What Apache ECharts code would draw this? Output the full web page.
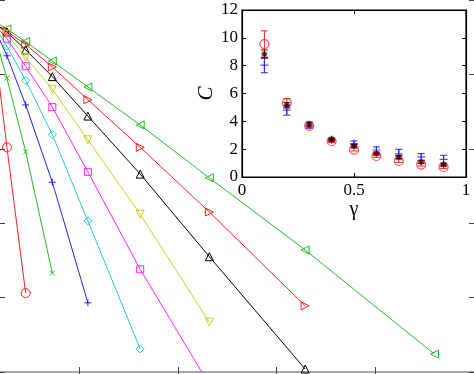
<!DOCTYPE html>
<html><head><meta charset="utf-8">
<script src="https://cdn.jsdelivr.net/npm/echarts@6/dist/echarts.min.js"></script>
<style>html,body{margin:0;padding:0;background:#fff}#c{width:474px;height:374px}</style>
</head><body><div id="c"></div>
<script>
// ---- main plot data ----
const mainX = [0.13, 0.27, 0.46, 0.73, 1.09, 1.62, 2.32, 3.29, 4.6];
const yGreenLeft  = [4.73, 4.61, 4.44, 4.18, 3.83, 3.32, 2.61, 1.64, 0.24];
const yRedRight   = [4.70, 4.58, 4.40, 4.10, 3.66, 3.02, 2.15, 0.89];
const yBlackUp    = [4.70, 4.57, 4.33, 3.97, 3.44, 2.66, 1.55, 0.04];
const yYellowDown = [4.70, 4.54, 4.23, 3.80, 3.12, 2.12, 0.67];
const yMagentaSq  = [4.69, 4.48, 4.11, 3.56, 2.69, 1.38, -0.17];
const yCyanDia    = [4.68, 4.38, 3.92, 3.19, 2.03, 0.31];
const yBluePlus   = [4.66, 4.25, 3.59, 2.55, 0.93];
const yGreenX     = [4.60, 3.95, 2.96, 1.33];
const yRedCircle  = [4.56, 3.02, 1.06];
const mainTickX = [1, 2, 3, 4];

// ---- inset data ----
const gammaVals = [0.1, 0.2, 0.3, 0.4, 0.5, 0.6, 0.7, 0.8, 0.9];
const cRed      = [9.55, 5.33, 3.67, 2.57, 1.97, 1.51, 1.15, 0.89, 0.72];
const cRedErr   = [0.95, 0.30, 0.15, 0.10, 0.10, 0.10, 0.10, 0.10, 0.10];
const cBlack    = [8.83, 5.16, 3.79, 2.69, 2.23, 1.68, 1.44, 1.08, 0.89];
const cBlackErr = [0.30, 0.20, 0.15, 0.10, 0.10, 0.10, 0.10, 0.10, 0.10];
const cBlue     = [8.04, 4.80, 3.72, 2.69, 2.40, 1.94, 1.66, 1.44, 1.26];
const cBlueErr  = [0.55, 0.36, 0.20, 0.12, 0.19, 0.22, 0.33, 0.24, 0.30];

const PLUS = 'path://M5,0L5,10M0,5L10,5';
const CROSS = 'path://M0,0L10,10M10,0L0,10';
const STAR = 'path://M5,0L5,10M0,5L10,5M1.5,1.5L8.5,8.5M8.5,1.5L1.5,8.5';

const mainDefs = [
  {y: yGreenLeft,  color: '#22bb22', symbol: 'triangle', rot: 90,  size: 8},
  {y: yRedRight,   color: '#ff2020', symbol: 'triangle', rot: -90, size: 8},
  {y: yBlackUp,    color: '#000000', symbol: 'triangle', rot: 0,   size: 8},
  {y: yYellowDown, color: '#cccc22', symbol: 'triangle', rot: 180, size: 8},
  {y: yMagentaSq,  color: '#ff22ff', symbol: 'rect',     rot: 0,   size: 7},
  {y: yCyanDia,    color: '#22cccc', symbol: 'diamond',  rot: 0,   size: 8},
  {y: yBluePlus,   color: '#2222ee', symbol: PLUS,       rot: 0,   size: 7},
  {y: yGreenX,     color: '#22bb22', symbol: CROSS,      rot: 0,   size: 5},
  {y: yRedCircle,  color: '#ff2020', symbol: 'circle',   rot: 0,   size: 9}
];

const series = mainDefs.map(d => ({
  type: 'line', xAxisIndex: 0, yAxisIndex: 0,
  data: d.y.map((v, i) => [mainX[i], v]),
  symbol: d.symbol, symbolSize: d.size, symbolRotate: d.rot,
  showAllSymbol: true, clip: true,
  lineStyle: {color: d.color, width: 1},
  itemStyle: {color: 'transparent', borderColor: d.color, borderWidth: 1},
  z: 2
}));

function errSeries(vals, errs, color) {
  return {
    type: 'custom', xAxisIndex: 2, yAxisIndex: 2, z: 5,
    data: gammaVals.map((g, i) => [g, vals[i] - errs[i], vals[i] + errs[i]]),
    encode: {x: 0, y: [1, 2]},
    renderItem: function (params, api) {
      const x = api.value(0);
      const p1 = api.coord([x, api.value(1)]);
      const p2 = api.coord([x, api.value(2)]);
      const w = 3.5;
      const st = {stroke: color, lineWidth: 1};
      return {type: 'group', children: [
        {type: 'line', shape: {x1: p1[0], y1: p1[1], x2: p2[0], y2: p2[1]}, style: st},
        {type: 'line', shape: {x1: p1[0] - w, y1: p1[1], x2: p1[0] + w, y2: p1[1]}, style: st},
        {type: 'line', shape: {x1: p2[0] - w, y1: p2[1], x2: p2[0] + w, y2: p2[1]}, style: st}
      ]};
    }
  };
}
function ptSeries(vals, color, symbol, size) {
  return {
    type: 'scatter', xAxisIndex: 2, yAxisIndex: 2, z: 6,
    data: gammaVals.map((g, i) => [g, vals[i]]),
    symbol: symbol, symbolSize: size,
    itemStyle: {color: 'transparent', borderColor: color, borderWidth: 1.2}
  };
}
series.push(errSeries(cRed, cRedErr, '#ff2020'));
series.push(errSeries(cBlue, cBlueErr, '#2020ff'));
series.push(errSeries(cBlack, cBlackErr, '#700000'));
series.push(ptSeries(cRed, '#ff2020', 'circle', 9));
series.push(ptSeries(cBlue, '#2020ff', PLUS, 8));
series.push(ptSeries(cBlack, '#200000', STAR, 6));

const tickStyle = {color: '#444', width: 1};
const serif = 'Liberation Serif';

const option = {
  animation: false,
  backgroundColor: '#fff',
  textStyle: {fontFamily: serif},
  grid: [
    {left: 0, right: 0, top: 0, bottom: 2, containLabel: false, outerBoundsMode: 'none'},
    {left: 242, top: 10, width: 224, height: 167, containLabel: false, outerBoundsMode: 'none',
     show: true, backgroundColor: '#fff', borderColor: '#000', borderWidth: 1.2, z: 4}
  ],
  xAxis: [
    {type: 'value', gridIndex: 0, position: 'bottom', min: 0.2, max: 5.0,
     axisLine: {show: true, lineStyle: {color: '#888', width: 1.5}},
     axisTick: {show: true, inside: true, length: 5, customValues: mainTickX, lineStyle: tickStyle},
     axisLabel: {show: false}, splitLine: {show: false}},
    {type: 'value', gridIndex: 0, position: 'top', min: 0.2, max: 5.0,
     axisLine: {show: false},
     axisTick: {show: true, inside: true, length: 5, customValues: mainTickX, lineStyle: tickStyle},
     axisLabel: {show: false}, splitLine: {show: false}},
    {type: 'value', gridIndex: 1, position: 'bottom', min: 0, max: 1, interval: 0.5, z: 6,
     axisLine: {show: true, onZero: false, lineStyle: {color: '#000', width: 1.2}},
     axisTick: {show: true, inside: true, length: 4, lineStyle: {color: '#000'}},
     axisLabel: {show: true, color: '#000', fontFamily: serif, fontSize: 17, margin: 5},
     splitLine: {show: false},
     name: 'γ', nameLocation: 'middle', nameGap: 18,
     nameTextStyle: {color: '#000', fontFamily: serif, fontSize: 20}},
    {type: 'value', gridIndex: 1, position: 'top', min: 0, max: 1, interval: 0.5, z: 6,
     axisLine: {show: true, onZero: false, lineStyle: {color: '#000', width: 1.2}},
     axisTick: {show: true, inside: true, length: 4, lineStyle: {color: '#000'}},
     axisLabel: {show: false}, splitLine: {show: false}}
  ],
  yAxis: [
    {type: 'value', gridIndex: 0, position: 'left', min: 0, max: 5, interval: 1,
     axisLine: {show: false},
     axisTick: {show: true, inside: true, length: 5, lineStyle: tickStyle},
     axisLabel: {show: false}, splitLine: {show: false}},
    {type: 'value', gridIndex: 0, position: 'right', min: 0, max: 5, interval: 1,
     axisLine: {show: false},
     axisTick: {show: true, inside: true, length: 5, lineStyle: tickStyle},
     axisLabel: {show: false}, splitLine: {show: false}},
    {type: 'value', gridIndex: 1, position: 'left', min: 0, max: 12, interval: 2, z: 6,
     axisLine: {show: true, onZero: false, lineStyle: {color: '#000', width: 1.2}},
     axisTick: {show: true, inside: true, length: 4, lineStyle: {color: '#000'}},
     axisLabel: {show: true, color: '#000', fontFamily: serif, fontSize: 17, margin: 4},
     splitLine: {show: false},
     name: 'C', nameLocation: 'middle', nameGap: 23, nameRotate: 90,
     nameTextStyle: {color: '#000', fontFamily: serif, fontSize: 21, fontStyle: 'italic'}},
    {type: 'value', gridIndex: 1, position: 'right', min: 0, max: 12, interval: 2, z: 6,
     axisLine: {show: true, onZero: false, lineStyle: {color: '#000', width: 1.2}},
     axisTick: {show: true, inside: true, length: 4, lineStyle: {color: '#000'}},
     axisLabel: {show: false}, splitLine: {show: false}}
  ],
  series: series
};
const chart = echarts.init(document.getElementById('c'), null, {renderer: 'canvas'});
chart.setOption(option);
</script>
</body></html>
